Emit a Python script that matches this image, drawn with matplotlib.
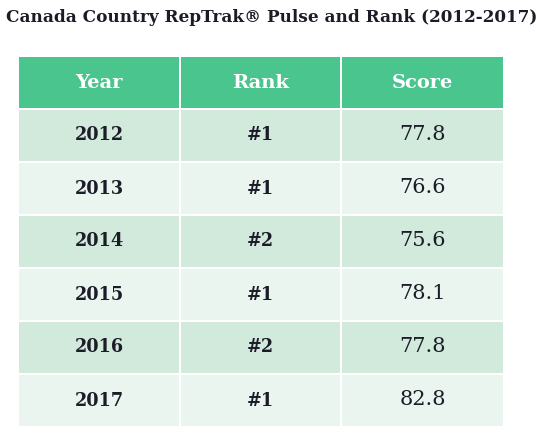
import matplotlib.pyplot as plt
from matplotlib.patches import Rectangle

# table data
title = "Canada Country RepTrak® Pulse and Rank (2012-2017)"
headers = ["Year", "Rank", "Score"]
years = ["2012", "2013", "2014", "2015", "2016", "2017"]
ranks = ["#1", "#1", "#2", "#1", "#2", "#1"]
scores = [77.8, 76.6, 75.6, 78.1, 77.8, 82.8]

# colours
head_col = "#4bc58e"
row_cols = ["#d2eadc", "#eaf5ef"]
text_col = "#1c1c28"

W, H = 544, 433
fig = plt.figure(figsize=(W / 100, H / 100), dpi=100)
ax = fig.add_axes([0, 0, 1, 1])
ax.set_xlim(0, W)
ax.set_ylim(H, 0)
ax.axis("off")

serif = ["DejaVu Serif"]

ax.text(W / 2, 17, title, ha="center", va="center", fontsize=12.2,
        fontweight="bold", family=serif, color=text_col)

# column edges and row geometry (pixels)
col_x = [19, 181, 342, 503]
top = 57
head_h = 53
row_h = 53
gap = 2

def cell(ax, c, y0, h, color):
    x0 = col_x[c]
    x1 = col_x[c + 1] - (gap if c < 2 else 0)
    ax.add_patch(Rectangle((x0, y0), x1 - x0, h - gap, facecolor=color,
                           edgecolor="none"))
    return (x0 + x1) / 2, y0 + (h - gap) / 2

for c, name in enumerate(headers):
    cx, cy = cell(ax, c, top, head_h, head_col)
    ax.text(cx, cy + 1, name, ha="center", va="center", fontsize=14,
            fontweight="bold", family=serif, color="white")

for i in range(len(years)):
    y0 = top + head_h + i * row_h
    color = row_cols[i % 2]
    vals = [years[i], ranks[i], f"{scores[i]:.1f}"]
    for c, v in enumerate(vals):
        cx, cy = cell(ax, c, y0, row_h, color)
        if c < 2:
            ax.text(cx, cy, v, ha="center", va="center", fontsize=12.7,
                    fontweight="bold", family=serif, color=text_col)
        else:
            ax.text(cx, cy - 1, v, ha="center", va="center", fontsize=15,
                    family=serif, color=text_col)

fig.savefig("out.png", dpi=100, facecolor="white")
